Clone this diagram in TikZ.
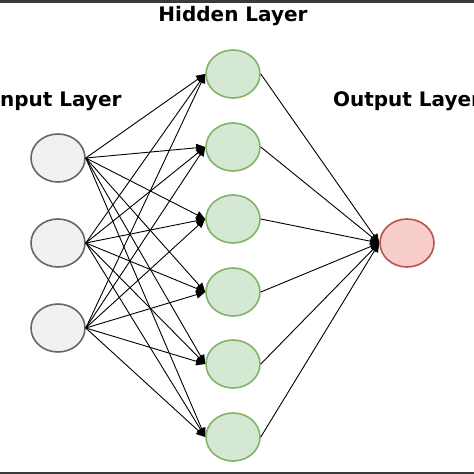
\documentclass[tikz,border=0pt]{standalone}
\usepackage{fontspec}
\setmainfont{DejaVu Sans}
\usetikzlibrary{shapes.geometric,arrows.meta}
\definecolor{inFill}{HTML}{F1F1F1}
\definecolor{inLine}{HTML}{666666}
\definecolor{hFill}{HTML}{D5E8D4}
\definecolor{hLine}{HTML}{82B366}
\definecolor{oFill}{HTML}{F8CECC}
\definecolor{oLine}{HTML}{B85450}
\definecolor{frame}{HTML}{3A3A3A}
\tikzset{
  neuron/.style={ellipse, minimum width=54pt, minimum height=48pt, inner sep=0pt, line width=1.6pt},
  innode/.style={neuron, draw=inLine, fill=inFill},
  hidnode/.style={neuron, draw=hLine, fill=hFill},
  outnode/.style={neuron, draw=oLine, fill=oFill},
  link/.style={line width=0.9pt, -{Triangle[length=9pt,width=8pt]}},
  lbl/.style={font=\fontsize{20}{24}\selectfont\bfseries, anchor=base, inner sep=0pt}
}
\begin{document}
\begin{tikzpicture}[x=1pt,y=-1pt]
\useasboundingbox (0,0) rectangle (474,474);
\fill[white] (0,0) rectangle (474,474);
\fill[frame] (0,0) rectangle (474,3);
\fill[frame] (0,471.5) rectangle (474,474);
\node[lbl] (lh) at (233,21.5) {Hidden Layer};
\node[lbl] (li) at (57,106) {Input Layer};
\node[lbl] (lo) at (407,106) {Output Layer};
\foreach \i/\y in {1/158,2/243,3/328} \node[innode] (i\i) at (58,\y) {};
\foreach \i/\y in {1/74,2/147,3/219,4/292,5/364,6/437} \node[hidnode] (h\i) at (233,\y) {};
\node[outnode] (o) at (407,243) {};
\foreach \a in {1,2,3} \foreach \b in {1,...,6} \draw[link] (i\a.east) -- (h\b.west);
\foreach \b in {1,...,6} \draw[link] (h\b.east) -- (o.west);
\end{tikzpicture}
\end{document}
